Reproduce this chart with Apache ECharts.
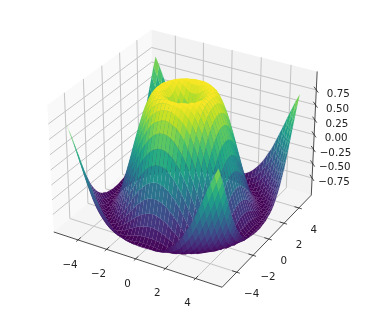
<!DOCTYPE html>
<html>
<head>
<meta charset="utf-8">
<style>
  html, body { margin: 0; padding: 0; background: #fff; }
  #chart { width: 374px; height: 321px; }
</style>
</head>
<body>
<div id="chart"></div>
<script src="https://cdn.jsdelivr.net/npm/echarts@6/dist/echarts.min.js"></script>
<script>
// surface heights; it is round, so one triangle of the grid
// is enough: heightRows[a][b] with a >= b, a and b counted in quarter units from the middle
const heightRows = [
  [0.00],
  [0.25, 0.35],
  [0.48, 0.53, 0.65],
  [0.68, 0.71, 0.78, 0.87],
  [0.84, 0.86, 0.90, 0.95, 0.99],
  [0.95, 0.96, 0.98, 0.99, 1.00, 0.98],
  [1.00, 1.00, 1.00, 0.99, 0.97, 0.93, 0.85],
  [0.98, 0.98, 0.97, 0.95, 0.90, 0.84, 0.74, 0.62],
  [0.91, 0.90, 0.88, 0.84, 0.79, 0.71, 0.60, 0.47, 0.31],
  [0.78, 0.77, 0.74, 0.70, 0.63, 0.54, 0.42, 0.29, 0.13, -0.04],
  [0.60, 0.59, 0.56, 0.51, 0.43, 0.34, 0.23, 0.09, -0.06, -0.22, -0.38],
  [0.38, 0.37, 0.34, 0.29, 0.21, 0.12, 0.01, -0.12, -0.26, -0.40, -0.54, -0.68],
  [0.14, 0.13, 0.10, 0.05, -0.02, -0.11, -0.21, -0.33, -0.45, -0.57, -0.69, -0.80, -0.89],
  [-0.11, -0.12, -0.15, -0.19, -0.26, -0.33, -0.42, -0.52, -0.63, -0.73, -0.82, -0.90, -0.96, -0.99],
  [-0.35, -0.36, -0.38, -0.42, -0.48, -0.54, -0.62, -0.70, -0.78, -0.85, -0.92, -0.97, -1.00, -1.00, -0.97],
  [-0.57, -0.58, -0.60, -0.63, -0.67, -0.73, -0.78, -0.84, -0.90, -0.94, -0.98, -1.00, -1.00, -0.97, -0.91, -0.83],
  [-0.76, -0.76, -0.78, -0.80, -0.83, -0.87, -0.90, -0.94, -0.97, -0.99, -1.00, -0.99, -0.96, -0.90, -0.82, -0.72, -0.59],
  [-0.90, -0.90, -0.91, -0.92, -0.94, -0.96, -0.98, -0.99, -1.00, -1.00, -0.98, -0.94, -0.88, -0.80, -0.70, -0.58, -0.43, -0.27],
  [-0.98, -0.98, -0.98, -0.99, -1.00, -1.00, -1.00, -0.99, -0.98, -0.95, -0.91, -0.85, -0.77, -0.67, -0.55, -0.41, -0.26, -0.09, 0.08],
  [-1.00, -1.00, -1.00, -1.00, -0.99, -0.98, -0.96, -0.94, -0.90, -0.86, -0.79, -0.71, -0.62, -0.51, -0.37, -0.23, -0.07, 0.09, 0.26, 0.42],
  [-0.96, -0.96, -0.95, -0.94, -0.93, -0.90, -0.88, -0.84, -0.79, -0.72, -0.64, -0.55, -0.43, -0.32, -0.18, -0.03, 0.12, 0.28, 0.43, 0.58, 0.71]
];
const gridOffsets = [20, 19, 18, 17, 16, 15, 14, 13, 12, 11, 10, 9, 8, 7, 6, 5, 4, 3, 2, 1, 0, 1, 2, 3, 4, 5, 6, 7, 8, 9, 10, 11, 12, 13, 14, 15, 16, 17, 18, 19, 20];
const gridValues = [-5, -4.75, -4.5, -4.25, -4, -3.75, -3.5, -3.25, -3, -2.75, -2.5, -2.25, -2, -1.75, -1.5, -1.25, -1, -0.75, -0.5, -0.25, 0, 0.25, 0.5, 0.75, 1, 1.25, 1.5, 1.75, 2, 2.25, 2.5, 2.75, 3, 3.25, 3.5, 3.75, 4, 4.25, 4.5, 4.75, 5];
const xTicks = [-4, -2, 0, 2, 4];
const yTicks = [-4, -2, 0, 2, 4];
const zTicks = [-0.75, -0.5, -0.25, 0, 0.25, 0.5, 0.75];
const zTickLabels = ['\u22120.75', '\u22120.50', '\u22120.25', '0.00', '0.25', '0.50', '0.75'];

const viridis = ['#440154', '#482475', '#414487', '#355f8d', '#2a788e', '#21918c', '#22a884', '#44bf70', '#7ad151', '#bddf26', '#fde725'];

// axis limits of the plot box, the panes sit 1/48 outside of them
const xLim = [-5.5, 5.5];
const yLim = [-5.5, 5.5];
const zLim = [-1.01, 1.01];
const margin = 1 / 48;
const xPane = [xLim[0] - (xLim[1] - xLim[0]) * margin, xLim[1] + (xLim[1] - xLim[0]) * margin];
const yPane = [yLim[0] - (yLim[1] - yLim[0]) * margin, yLim[1] + (yLim[1] - yLim[0]) * margin];
const zPane = [zLim[0] - (zLim[1] - zLim[0]) * margin, zLim[1] + (zLim[1] - zLim[0]) * margin];

// camera: elev 30, azim -60, box 4:4:3
const box = [1.1905, 1.1905, 0.8929];
const dist = 10;
const camU = [0.866, 0.5, 0];
const camV = [-0.25, 0.433, 0.866];
const camN = [0.433, -0.75, 0.5];

function project(x, y, z) {
  const px = ((x - xLim[0]) / (xLim[1] - xLim[0]) - 0.5) * box[0];
  const py = ((y - yLim[0]) / (yLim[1] - yLim[0]) - 0.5) * box[1];
  const pz = ((z - zLim[0]) / (zLim[1] - zLim[0]) - 0.5) * box[2];
  const d = dist - (camN[0] * px + camN[1] * py + camN[2] * pz);
  return [
    (camU[0] * px + camU[1] * py + camU[2] * pz) / d,
    (camV[0] * px + camV[1] * py + camV[2] * pz) / d,
    d
  ];
}

function heightAt(i, j) {
  const a = gridOffsets[i];
  const b = gridOffsets[j];
  return a >= b ? heightRows[a][b] : heightRows[b][a];
}

function colorFor(z) {
  const t = Math.max(0, Math.min(1, (z + 1) / 2)) * (viridis.length - 1);
  const k = Math.min(Math.floor(t), viridis.length - 2);
  const f = t - k;
  const c0 = echarts.color.parse(viridis[k]);
  const c1 = echarts.color.parse(viridis[k + 1]);
  return 'rgb(' + [0, 1, 2].map(n => Math.round(c0[n] + (c1[n] - c0[n]) * f)).join(',') + ')';
}

// facets, far ones first
const facets = [];
for (let i = 0; i < gridValues.length - 1; i++) {
  for (let j = 0; j < gridValues.length - 1; j++) {
    const corners = [[i, j], [i + 1, j], [i + 1, j + 1], [i, j + 1]].map(c => {
      const p = project(gridValues[c[0]], gridValues[c[1]], heightAt(c[0], c[1]));
      return { p: p, z: heightAt(c[0], c[1]) };
    });
    const depth = corners.reduce((s, c) => s + c.p[2], 0) / 4;
    const avg = corners.reduce((s, c) => s + c.z, 0) / 4;
    facets.push({ depth: depth, color: colorFor(avg), pts: corners.map(c => [c.p[0], c.p[1]]) });
  }
}
facets.sort((a, b) => b.depth - a.depth);

// panes
const panes = [
  { color: '#f9f9f9', pts: [[xPane[0], yPane[0], zPane[0]], [xPane[0], yPane[1], zPane[0]], [xPane[0], yPane[1], zPane[1]], [xPane[0], yPane[0], zPane[1]]] },
  { color: '#f2f2f2', pts: [[xPane[0], yPane[1], zPane[0]], [xPane[1], yPane[1], zPane[0]], [xPane[1], yPane[1], zPane[1]], [xPane[0], yPane[1], zPane[1]]] },
  { color: '#f5f5f5', pts: [[xPane[0], yPane[0], zPane[0]], [xPane[1], yPane[0], zPane[0]], [xPane[1], yPane[1], zPane[0]], [xPane[0], yPane[1], zPane[0]]] }
];

// grid lines on the panes, each one a polyline
const gridLines = [];
xTicks.forEach(v => gridLines.push([[v, yPane[0], zPane[0]], [v, yPane[1], zPane[0]], [v, yPane[1], zPane[1]]]));
yTicks.forEach(v => gridLines.push([[xPane[1], v, zPane[0]], [xPane[0], v, zPane[0]], [xPane[0], v, zPane[1]]]));
zTicks.forEach(v => gridLines.push([[xPane[0], yPane[0], v], [xPane[0], yPane[1], v], [xPane[1], yPane[1], v]]));

// axis lines and ticks
const axisLines = [
  [[xPane[0], yPane[0], zPane[0]], [xPane[1], yPane[0], zPane[0]]],
  [[xPane[1], yPane[0], zPane[0]], [xPane[1], yPane[1], zPane[0]]],
  [[xPane[1], yPane[1], zPane[0]], [xPane[1], yPane[1], zPane[1]]]
];
xTicks.forEach(v => axisLines.push([[v, yPane[0] - 0.2, zPane[0]], [v, yPane[0] + 0.3, zPane[0]]]));
yTicks.forEach(v => axisLines.push([[xPane[1] + 0.2, v, zPane[0]], [xPane[1] - 0.3, v, zPane[0]]]));
zTicks.forEach(v => axisLines.push([[xPane[1] + 0.25, yPane[1] - 0.25, v], [xPane[1] - 0.3, yPane[1] + 0.3, v]]));

const axisLabels = [];
xTicks.forEach(v => axisLabels.push({ at: [v, yPane[0], zPane[0]], text: String(v).replace('-', '\u2212'), dx: -8, dy: 25 }));
yTicks.forEach(v => axisLabels.push({ at: [xPane[1], v, zPane[0]], text: String(v).replace('-', '\u2212'), dx: 15, dy: 22 }));
zTicks.forEach((v, i) => axisLabels.push({ at: [xPane[1], yPane[1], v], text: zTickLabels[i], dx: 22, dy: 4 }));

function flat(pts) {
  return pts.map(p => project(p[0], p[1], p[2]).slice(0, 2));
}

function polyItem(list, style) {
  return function (params, api) {
    const it = list[params.dataIndex];
    return {
      type: 'polygon',
      silent: true,
      shape: { points: it.pts.map(p => api.coord(p)) },
      style: style(it)
    };
  };
}

function lineItem(list, color, width) {
  return function (params, api) {
    return {
      type: 'polyline',
      silent: true,
      shape: { points: flat(list[params.dataIndex]).map(p => api.coord(p)) },
      style: { stroke: color, lineWidth: width, fill: 'none' }
    };
  };
}

const flatPanes = panes.map(p => ({ color: p.color, pts: flat(p.pts) }));

function customSeries(list, renderItem, z) {
  return {
    type: 'custom',
    coordinateSystem: 'cartesian2d',
    data: list.map((d, i) => [i]),
    encode: { x: 0, y: 0 },
    clip: false,
    silent: true,
    progressive: 0,
    animation: false,
    z: z,
    renderItem: renderItem
  };
}

const chart = echarts.init(document.getElementById('chart'), null, { renderer: 'canvas' });
chart.setOption({
  backgroundColor: '#ffffff',
  animation: false,
  tooltip: { show: false },
  grid: { left: 0, right: 0, top: 0, bottom: 0 },
  // the projected plane of the camera, one unit is about 1555 px
  xAxis: { type: 'value', min: -0.11897, max: 0.12154, show: false },
  yAxis: { type: 'value', min: -0.10868, max: 0.09775, show: false },
  series: [
    customSeries(flatPanes, polyItem(flatPanes, it => ({ fill: it.color })), 1),
    customSeries(gridLines, lineItem(gridLines, '#c4c4c4', 1), 2),
    customSeries(facets, polyItem(facets, it => ({ fill: it.color, stroke: it.color, lineWidth: 0.1 })), 3),
    customSeries(axisLines, lineItem(axisLines, '#222222', 0.8), 4),
    customSeries(axisLabels, function (params, api) {
      const it = axisLabels[params.dataIndex];
      const p = api.coord(flat([it.at])[0]);
      return {
        type: 'text',
        silent: true,
        x: p[0] + it.dx,
        y: p[1] + it.dy,
        style: {
          text: it.text,
          fill: '#222222',
          font: '10.3px "DejaVu Sans"',
          textAlign: 'center',
          textVerticalAlign: 'middle'
        }
      };
    }, 5)
  ]
});

window.addEventListener('resize', function () {
  chart.resize();
});
</script>
</body>
</html>
